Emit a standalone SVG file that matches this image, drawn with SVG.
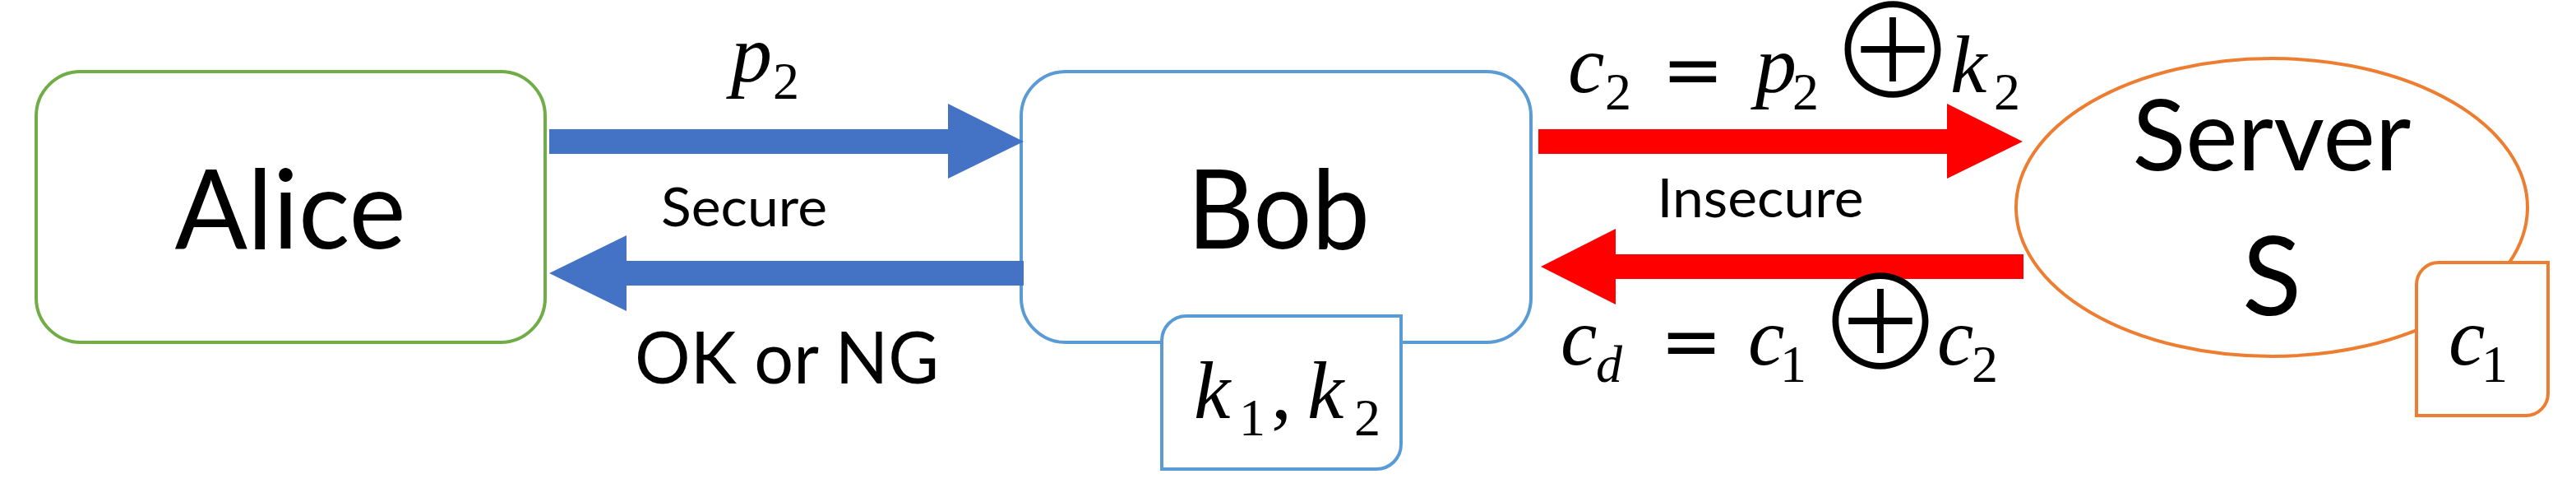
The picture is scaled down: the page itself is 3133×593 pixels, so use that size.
<svg xmlns="http://www.w3.org/2000/svg" width="3133" height="593" viewBox="0 0 3133 593">
<style>
.lbl{font-family:Lato,"Open Sans","Liberation Sans",sans-serif;fill:#000;text-anchor:middle}
.m{font-family:"Liberation Serif","DejaVu Serif",serif;font-style:italic;font-size:100px;fill:#000}
.sub{font-family:"Liberation Serif","DejaVu Serif",serif;font-style:normal;font-size:64px;fill:#000}
.subi{font-family:"Liberation Serif","DejaVu Serif",serif;font-style:italic;font-size:64px;fill:#000}
.op{font-family:"DejaVu Sans",sans-serif;font-style:normal;fill:#000;text-anchor:middle}
.xor{font-family:"Noto Sans CJK JP","DejaVu Sans",sans-serif;font-weight:300;font-size:158px;fill:#000;text-anchor:middle}
.box{fill:#fff;stroke-width:4}
</style>
<rect width="3133" height="593" fill="#fff"/>
<g id="alice">
<rect class="box" x="44" y="87" width="619" height="329" rx="54" stroke="#70AD47"/>
<text class="lbl" x="353" y="302" font-size="134" textLength="281" lengthAdjust="spacingAndGlyphs">Alice</text>
</g>
<g id="bob">
<rect class="box" x="1242" y="87" width="620" height="329" rx="54" stroke="#5B9BD5"/>
<text class="lbl" x="1555" y="302" font-size="133" textLength="222" lengthAdjust="spacingAndGlyphs">Bob</text>
</g>
<g id="bob-keys">
<path class="box" stroke="#5B9BD5" d="M1443,384 H1704 V540 A30,30 0 0 1 1674,570 H1413 V414 A30,30 0 0 1 1443,384 Z"/>
<text class="m" x="1452" y="508">k</text>
<text class="sub" x="1507" y="529">1</text>
<text class="m" x="1546" y="508" style="font-style:normal">,</text>
<text class="m" x="1590" y="508">k</text>
<text class="sub" x="1647" y="529">2</text>
</g>
<g id="server">
<ellipse class="box" cx="2763" cy="252" rx="311" ry="181" stroke="#ED7D31"/>
<text class="lbl" x="2763" y="207" font-size="121" textLength="339" lengthAdjust="spacingAndGlyphs">Server</text>
<text class="lbl" x="2763" y="383" font-size="133">S</text>
</g>
<g id="server-c1">
<path class="box" stroke="#ED7D31" d="M2966,319 H3099 V478 A27,27 0 0 1 3072,505 H2939 V346 A27,27 0 0 1 2966,319 Z"/>
<text class="m" x="2978" y="443">c</text>
<text class="sub" x="3018" y="464">1</text>
</g>
<g id="connectors">
<polygon fill="#4472C4" points="668,157 1153,157 1153,126 1245,172 1153,217 1153,187 668,187"/>
<polygon fill="#4472C4" points="668,332 762,286 762,317 1245,317 1245,347 762,347 762,378"/>
<polygon fill="#FF0000" points="1871,157 2368,157 2368,126 2460,172 2368,217 2368,187 1871,187"/>
<polygon fill="#FF0000" points="1874,324 1965,278 1965,309 2461,309 2461,339 1965,339 1965,370"/>
</g>
<g id="connector-labels">
<text class="m" x="889" y="99">p</text>
<text class="sub" x="940" y="120">2</text>
<text class="lbl" x="905" y="275" font-size="66" textLength="202" lengthAdjust="spacingAndGlyphs">Secure</text>
<text class="lbl" x="957" y="466" font-size="88" textLength="370" lengthAdjust="spacingAndGlyphs">OK or NG</text>
<text class="m" x="1907" y="112">c</text>
<text class="sub" x="1952" y="133">2</text>
<text class="op" x="2059" y="116" font-size="90">=</text>
<text class="m" x="2135" y="112">p</text>
<text class="sub" x="2180" y="133">2</text>
<text class="xor" x="2302" y="120">⊕</text>
<text class="m" x="2372" y="112">k</text>
<text class="sub" x="2425" y="133">2</text>
<text class="lbl" x="2141" y="264" font-size="66" textLength="251" lengthAdjust="spacingAndGlyphs">Insecure</text>
<text class="m" x="1898" y="443">c</text>
<text class="subi" x="1941" y="464">d</text>
<text class="op" x="2057" y="446" font-size="90">=</text>
<text class="m" x="2126" y="443">c</text>
<text class="sub" x="2165" y="464">1</text>
<text class="xor" x="2287" y="450">⊕</text>
<text class="m" x="2356" y="443">c</text>
<text class="sub" x="2398" y="464">2</text>
</g>
</svg>
